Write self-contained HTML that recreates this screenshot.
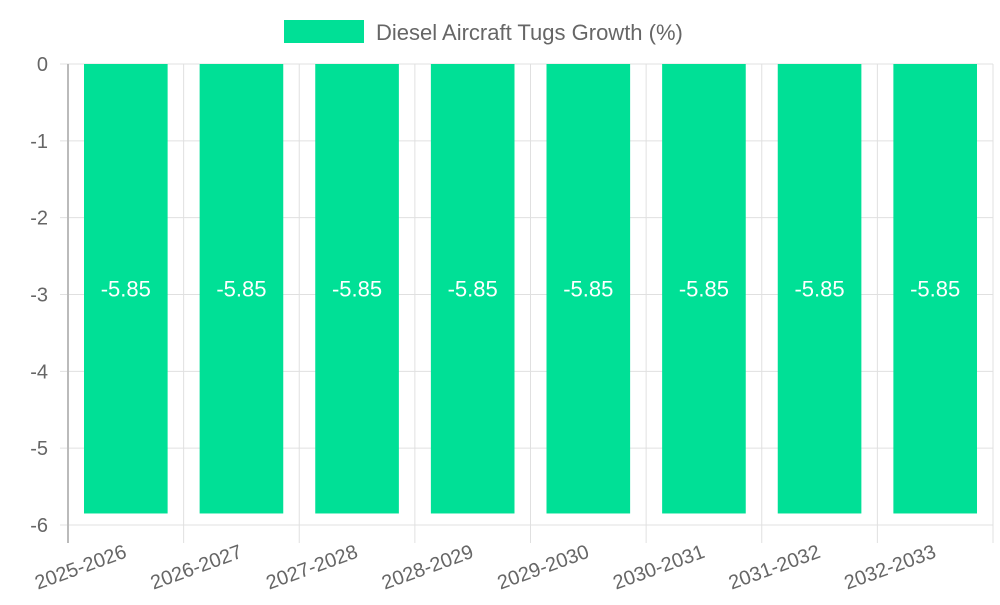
<!DOCTYPE html>
<html><head><meta charset="utf-8"><style>
body{margin:0;background:#fff;}
svg{font-family:"Liberation Sans",sans-serif;}
</style></head><body>
<svg width="1000" height="600">
<g id="legend">
<rect x="284" y="20" width="80" height="23" fill="#00e096"/>
<text x="376" y="40" font-size="22" fill="#666">Diesel Aircraft Tugs Growth (%)</text>
</g>
<g id="grid"></g><g id="bars"></g><g id="labels"></g>
</svg>
<script>
const categories=["2025-2026","2026-2027","2027-2028","2028-2029","2029-2030","2030-2031","2031-2032","2032-2033"];
const values=[-5.85,-5.85,-5.85,-5.85,-5.85,-5.85,-5.85,-5.85];
const yTicks=[0,-1,-2,-3,-4,-5,-6];
const NS="http://www.w3.org/2000/svg";
const L=68,R=993,T=64,B=525;
const y=v=>T+(0-v)/6*(B-T);
const cw=(R-L)/categories.length;
const x=i=>L+i*cw;
function mk(tag,attrs,parent){const e=document.createElementNS(NS,tag);for(const k in attrs)e.setAttribute(k,attrs[k]);document.getElementById(parent).appendChild(e);return e;}
yTicks.forEach(t=>{
 const g=mk("line",{x1:L-8,x2:R,y1:y(t),y2:y(t),stroke:"#e0e0e0","stroke-width":1},"grid");
 
 
 const tx=mk("text",{x:L-20,y:y(t)+7,"text-anchor":"end","font-size":20,fill:"#666"},"grid");
 tx.textContent=t;
 
 
});
for(let i=0;i<=categories.length;i++){
 const g=mk("line",{x1:x(i),x2:x(i),y1:T,y2:B+18,stroke:i==0?"#bbb":"#e0e0e0","stroke-width":i==0?2:1},"grid");
 
 
}
categories.forEach((c,i)=>{
 const bx=x(i)+16,bw=cw-32;
 const r=mk("rect",{x:bx,y:y(0),width:bw,height:y(values[i])-y(0),fill:"#00e096"},"bars");
 
 
 const v=mk("text",{x:bx+bw/2,y:(y(0)+y(values[i]))/2+8,"text-anchor":"middle","font-size":22,fill:"#fff"},"labels");
 v.textContent=values[i];
 
 
 const cx=x(i)+cw/2+2, cy=B+32;
 const lt=mk("text",{x:cx,y:cy,"text-anchor":"end","font-size":20,fill:"#666",transform:`rotate(-20 ${cx} ${cy})`},"labels");
 lt.textContent=c;
 
 
});
</script>
</body></html>
